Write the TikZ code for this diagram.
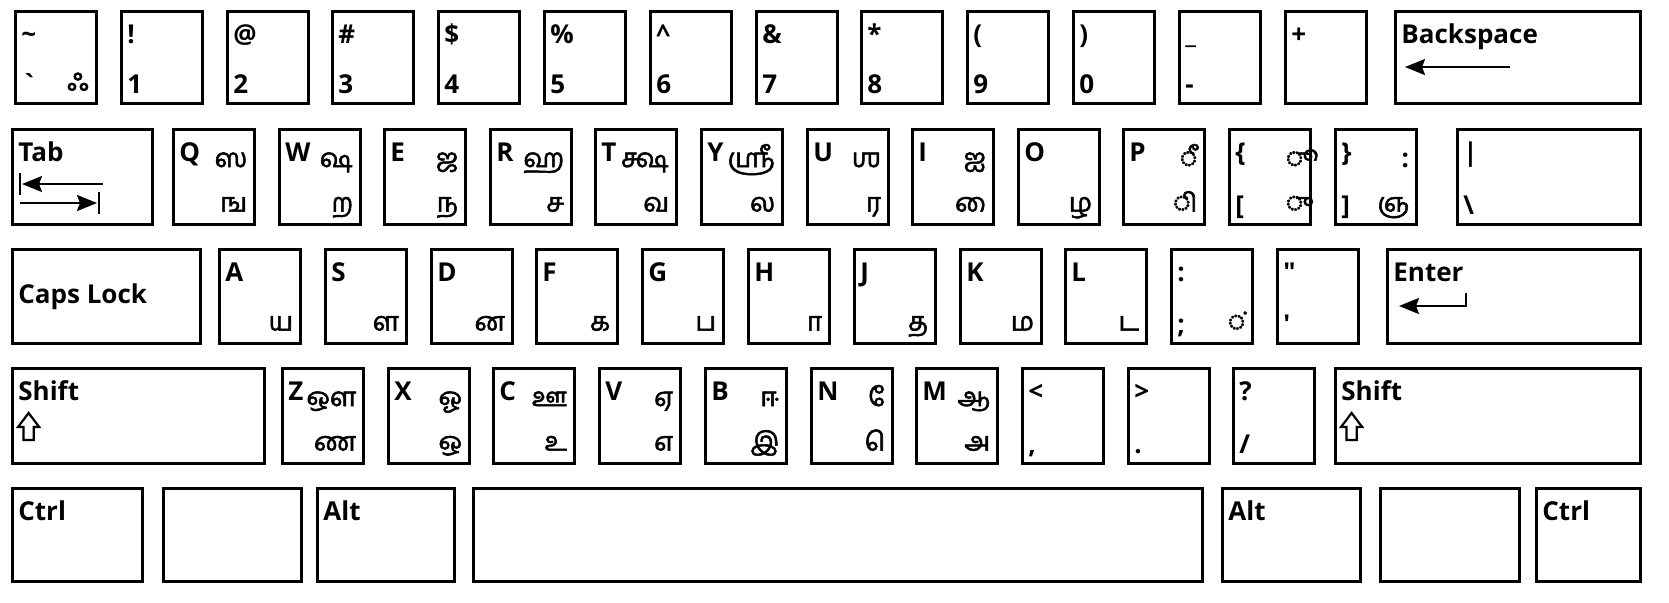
\documentclass[tikz,border=0pt]{standalone}
\usepackage{fontspec}
\setmainfont{Open Sans}
\newfontfamily\tamilfont[Script=Tamil, FakeBold=2]{Hind Madurai}
\newcommand\vowelsign[1]{\XeTeXglyph\XeTeXcharglyph"#1\relax}
\usetikzlibrary{arrows.meta}

\tikzset{
  key/.style={draw, line width=1.25pt, inner sep=0pt, anchor=north west,
    minimum width=40.5pt, minimum height=47.5pt},
  lab/.style={inner sep=0pt, font=\fontsize{13}{15}\selectfont\bfseries},
  tam/.style={inner sep=0pt, font=\fontsize{13}{15}\selectfont\tamilfont},
  tl/.style={label={[lab, anchor=base west, xshift=3.5pt, yshift=-16.5pt]north west:{#1}}},
  bl/.style={label={[lab, anchor=base west, xshift=3.5pt, yshift=5.5pt]south west:{#1}}},
  tr/.style={label={[tam, anchor=base east, xshift=-4pt, yshift=-19.5pt]north east:{#1}}},
  br/.style={label={[tam, anchor=base east, xshift=-4pt, yshift=7pt]south east:{#1}}},
  arr/.style={line width=1.2pt, -{Stealth[length=10pt, width=8pt, inset=1.5pt]}},
  bar/.style={line width=1.2pt},
  uparrow/.style={line width=1.1pt, line join=miter}
}

\begin{document}
\begin{tikzpicture}[x=0.5pt, y=-0.5pt]
  \fill[white] (0,0) rectangle (1669,602);
  \useasboundingbox (0,0) rectangle (1669,602);

  % number row
  \node[key, minimum height=46pt, tl=\textasciitilde, bl=\textasciigrave, br={\fontsize{16}{18}\selectfont ஃ}] (tilde) at (14,10) {};
  \node[key, minimum height=46pt, tl=!, bl=1] (one) at (120,10) {};
  \node[key, minimum height=46pt, tl=@, bl=2] (two) at (226,10) {};
  \node[key, minimum height=46pt, tl=\#, bl=3] (three) at (331,10) {};
  \node[key, minimum height=46pt, tl=\$, bl=4] (four) at (437,10) {};
  \node[key, minimum height=46pt, tl=\%, bl=5] (five) at (543,10) {};
  \node[key, minimum height=46pt, tl=\textasciicircum, bl=6] (six) at (649,10) {};
  \node[key, minimum height=46pt, tl=\&, bl=7] (seven) at (755,10) {};
  \node[key, minimum height=46pt, tl=*, bl=8] (eight) at (860,10) {};
  \node[key, minimum height=46pt, tl=(, bl=9] (nine) at (966,10) {};
  \node[key, minimum height=46pt, tl=), bl=0] (zero) at (1072,10) {};
  \node[key, minimum height=46pt, tl=\_, bl=-] (minus) at (1178,10) {};
  \node[key, minimum height=46pt, tl=+, bl==] (equal) at (1284,10) {};
  \node[key, minimum height=46pt, minimum width=122.5pt, tl=Backspace] (bksp) at (1394,10) {};

  % top letter row
  \node[key, minimum width=70pt, tl=Tab] (tab) at (11,128) {};
  \node[key, tl=Q, tr=ஸ, br=ங] (q) at (172,128) {};
  \node[key, tl=W, tr=ஷ, br=ற] (w) at (278,128) {};
  \node[key, tl=E, tr=ஜ, br=ந] (e) at (383,128) {};
  \node[key, tl=R, tr=ஹ, br=ச] (r) at (489,128) {};
  \node[key, tl=T, tr=க்ஷ, br=வ] (t) at (594,128) {};
  \node[key, tl=Y, tr=ஸ்ரீ, br=ல] (y) at (700,128) {};
  \node[key, tl=U, tr=ஶ, br=ர] (u) at (806,128) {};
  \node[key, tl=I, tr=ஐ, br={\vowelsign{0BC8}}] (i) at (911,128) {};
  \node[key, tl=O, br=ழ] (o) at (1017,128) {};
  \node[key, tl=P, tr=ீ, br=ி] (p) at (1122,128) {};
  \node[key, tl=\{, bl={[}, tr=ூ, br=ு] (lbr) at (1228,128) {};
  \node[key, tl=\}, bl={]}, tr={\normalfont\fontsize{13}{15}\selectfont\bfseries :}, br=ஞ] (rbr) at (1334,128) {};
  \node[key, minimum width=91.5pt, tl=|, bl=\textbackslash] (bslash) at (1456,128) {};

  % home row
  \node[key, minimum width=94pt, minimum height=47pt,
    label={[lab, anchor=west, xshift=3.5pt]west:{Caps Lock}}] (caps) at (11,248) {};
  \node[key, minimum height=47pt, tl=A, br=ய] (a) at (218,248) {};
  \node[key, minimum height=47pt, tl=S, br=ள] (s) at (324,248) {};
  \node[key, minimum height=47pt, tl=D, br=ன] (d) at (430,248) {};
  \node[key, minimum height=47pt, tl=F, br=க] (f) at (535,248) {};
  \node[key, minimum height=47pt, tl=G, br=ப] (g) at (641,248) {};
  \node[key, minimum height=47pt, tl=H, br={\vowelsign{0BBE}}] (h) at (747,248) {};
  \node[key, minimum height=47pt, tl=J, br=த] (j) at (853,248) {};
  \node[key, minimum height=47pt, tl=K, br=ம] (k) at (959,248) {};
  \node[key, minimum height=47pt, tl=L, br=ட] (l) at (1064,248) {};
  \node[key, minimum height=47pt, tl={:}, bl={;}, br=்] (semi) at (1170,248) {};
  \node[key, minimum height=47pt, tl=\textquotedbl, bl=\textquotesingle] (quote) at (1276,248) {};
  \node[key, minimum height=47pt, minimum width=126.5pt, tl=Enter] (enter) at (1386,248) {};

  % bottom letter row
  \node[key, minimum width=126pt, tl=Shift] (lshift) at (11,367) {};
  \node[key, tl=Z, tr=ஔ, br=ண] (z) at (281,367) {};
  \node[key, tl=X, tr=ஓ, br=ஒ] (x) at (387,367) {};
  \node[key, tl=C, tr=ஊ, br=உ] (c) at (492,367) {};
  \node[key, tl=V, tr=ஏ, br=எ] (v) at (598,367) {};
  \node[key, tl=B, tr=ஈ, br=இ] (b) at (704,367) {};
  \node[key, tl=N, tr={\vowelsign{0BC7}}, br={\vowelsign{0BC6}}] (n) at (810,367) {};
  \node[key, tl=M, tr=ஆ, br=அ] (m) at (915,367) {};
  \node[key, tl=<, bl={,}] (comma) at (1021,367) {};
  \node[key, tl=>, bl=.] (period) at (1127,367) {};
  \node[key, tl=?, bl=/] (slash) at (1232,367) {};
  \node[key, minimum width=152.5pt, tl=Shift] (rshift) at (1334,367) {};

  % space row
  \node[key, minimum width=65pt, minimum height=46.5pt, tl=Ctrl] (lctrl) at (11,487) {};
  \node[key, minimum width=69pt, minimum height=46.5pt] (lwin) at (162,487) {};
  \node[key, minimum width=68.5pt, minimum height=46.5pt, tl=Alt] (lalt) at (316,487) {};
  \node[key, minimum width=364.5pt, minimum height=46.5pt] (space) at (472,487) {};
  \node[key, minimum width=69pt, minimum height=46.5pt, tl=Alt] (ralt) at (1221,487) {};
  \node[key, minimum width=69.5pt, minimum height=46.5pt] (rwin) at (1379,487) {};
  \node[key, minimum width=52pt, minimum height=46.5pt, tl=Ctrl] (rctrl) at (1535,487) {};

  % arrows on the wide keys
  \coordinate (bs1) at (1510,67);
  \coordinate (bs2) at (1405,67);
  \coordinate (tab1) at (103,184);
  \coordinate (tab2) at (22,184);
  \coordinate (tab3) at (20,173);
  \coordinate (tab4) at (20,195);
  \coordinate (tab5) at (20,203);
  \coordinate (tab6) at (97,203);
  \coordinate (tab7) at (99,192);
  \coordinate (tab8) at (99,214);
  \coordinate (en1) at (1466,293);
  \coordinate (en2) at (1466,306);
  \coordinate (en3) at (1399,306);

  \draw[arr] (bs1) -- (bs2);
  \draw[arr] (tab1) -- (tab2);
  \draw[bar] (tab3) -- (tab4);
  \draw[arr] (tab5) -- (tab6);
  \draw[bar] (tab7) -- (tab8);
  \draw[arr] (en1) -- (en2) -- (en3);

  \draw[uparrow] (28.6,413) -- (39.2,427) -- (33.8,427) -- (33.8,440) -- (23.4,440) -- (23.4,427) -- (18,427) -- cycle;
  \draw[uparrow] (1351.6,413) -- (1362.2,427) -- (1356.8,427) -- (1356.8,440) -- (1346.4,440) -- (1346.4,427) -- (1341,427) -- cycle;
\end{tikzpicture}
\end{document}
